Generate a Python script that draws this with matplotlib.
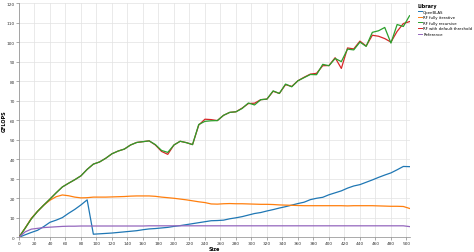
import matplotlib
matplotlib.use("Agg")
import matplotlib.pyplot as plt

# matrix size (x) and GFLOPS per library
sizes = [0, 8, 16, 24, 32, 40, 48, 56, 64, 72, 80, 88, 96, 104, 112, 120,
         128, 136, 144, 152, 160, 168, 176, 184, 192, 200, 208, 216, 224, 232, 240, 248,
         256, 264, 272, 280, 288, 296, 304, 312, 320, 328, 336, 344, 352, 360, 368, 376,
         384, 392, 400, 408, 416, 424, 432, 440, 448, 456, 464, 472, 480, 488, 496, 504]

openblas = [0, 1.3, 2.5, 3.6, 5.5, 7.7, 8.8, 10.1, 12.3, 14.3, 16.6, 19.2, 1.6, 1.8, 2.0, 2.2,
            2.5, 2.8, 3.1, 3.4, 3.9, 4.3, 4.5, 4.8, 5.1, 5.6, 6.0, 6.5, 7.0, 7.5, 8.0, 8.5,
            8.6, 8.8, 9.5, 10.0, 10.6, 11.4, 12.2, 12.7, 13.5, 14.2, 15.0, 15.7, 16.5, 17.3, 18.0, 19.3,
            20.0, 20.5, 21.8, 22.8, 23.8, 25.2, 26.3, 27.0, 28.2, 29.4, 30.7, 31.9, 33.0, 34.6, 36.3, 36.2]

rf_iterative = [0, 4.7, 9.8, 13.3, 16.5, 19.0, 20.8, 21.7, 21.3, 20.6, 20.2, 20.3, 20.6, 20.6, 20.6, 20.7,
                20.8, 20.9, 21.1, 21.2, 21.2, 21.2, 21.0, 20.6, 20.3, 20.0, 19.6, 19.2, 18.7, 18.2, 17.8, 17.1,
                17.0, 17.2, 17.3, 17.2, 17.2, 17.1, 17.0, 16.9, 16.9, 16.8, 16.6, 16.5, 16.4, 16.3, 16.2, 16.2,
                16.2, 16.2, 16.2, 16.2, 16.2, 16.1, 16.2, 16.2, 16.2, 16.2, 16.1, 16.0, 15.9, 15.9, 15.8, 14.8]

rf_recursive = [0, 4.7, 9.5, 13.3, 16.5, 19.6, 22.8, 25.8, 27.7, 29.5, 31.5, 34.8, 37.5, 38.6, 40.5, 42.8,
                44.2, 45.2, 47.3, 48.6, 49.0, 49.4, 47.5, 44.5, 43.5, 47.3, 49.2, 48.5, 47.5, 57.8, 59.4, 59.7,
                59.8, 62.5, 64.0, 64.3, 66.0, 68.8, 67.8, 70.5, 70.8, 75.0, 73.7, 78.5, 77.1, 80.2, 81.8, 83.4,
                83.3, 88.6, 87.9, 91.6, 90.0, 96.4, 96.0, 100.0, 97.8, 105.0, 105.8, 107.5, 99.5, 109.0, 108.0, 113.5]

rf_default = [0, 4.7, 9.5, 13.3, 16.5, 19.6, 22.8, 25.8, 27.7, 29.5, 31.5, 34.8, 37.5, 38.6, 40.5, 42.8,
              44.2, 45.2, 47.3, 48.6, 49.0, 49.4, 47.3, 44.0, 42.5, 47.3, 49.2, 48.5, 47.5, 57.5, 60.5, 60.3,
              59.8, 62.5, 64.0, 64.3, 66.2, 68.5, 68.7, 70.5, 70.8, 74.8, 73.7, 78.2, 77.3, 80.2, 82.0, 83.6,
              84.0, 87.9, 88.0, 92.0, 86.5, 97.0, 96.5, 100.5, 98.0, 103.5, 103.0, 101.8, 100.0, 105.5, 109.5, 110.5]

reference = [0, 2.8, 4.2, 4.6, 5.0, 5.2, 5.4, 5.6, 5.7, 5.7, 5.8, 5.8, 5.8, 5.8, 5.8, 5.8,
             5.8, 5.8, 5.8, 5.8, 5.8, 5.9, 5.9, 5.9, 5.9, 5.9, 5.9, 5.9, 5.9, 5.9, 5.9, 5.9,
             5.9, 5.9, 5.9, 5.9, 5.9, 5.9, 5.9, 5.9, 5.9, 5.9, 5.9, 5.9, 5.9, 5.9, 5.9, 5.9,
             5.9, 5.9, 5.9, 5.9, 5.9, 5.9, 5.9, 5.9, 5.9, 5.9, 5.9, 5.9, 5.9, 5.9, 5.9, 5.5]

series = [
    ("OpenBLAS", openblas, "#1f77b4"),
    ("RF fully iterative", rf_iterative, "#ff7f0e"),
    ("RF fully recursive", rf_recursive, "#2ca02c"),
    ("RF with default threshold", rf_default, "#d62728"),
    ("Reference", reference, "#9467bd"),
]
# red sits under green
zorders = [2, 3, 5, 4, 6]

fig = plt.figure(figsize=(4.74, 2.53), dpi=100)
ax = fig.add_axes([0.040, 0.058, 0.824, 0.926])

for (name, vals, col), z in zip(series, zorders):
    ax.plot(sizes, vals, color=col, lw=0.9, label=name, zorder=z)

ax.set_xlim(0, 504)
ax.set_ylim(0, 120)
ax.set_xticks(range(0, 501, 20))
ax.set_yticks(range(0, 121, 10))
ax.grid(True, color="#e2e2e2", lw=0.5)
ax.set_axisbelow(True)
for s in ["top", "right"]:
    ax.spines[s].set_visible(False)
for s in ["left", "bottom"]:
    ax.spines[s].set_color("#888888")
    ax.spines[s].set_linewidth(0.5)
ax.tick_params(labelsize=3.1, length=2, width=0.5, color="#888888",
               labelcolor="#333333", pad=1)
ax.set_xlabel("Size", fontsize=3.5, fontweight="bold")
ax.set_ylabel("GFLOPS", fontsize=3.5, fontweight="bold")
ax.xaxis.set_label_coords(0.5, -0.038)
ax.yaxis.set_label_coords(-0.032, 0.5)

leg = ax.legend(loc="upper left", bbox_to_anchor=(0.878, 0.99),
                bbox_transform=fig.transFigure, frameon=False,
                fontsize=2.8, title="Library", title_fontproperties={"size": 3.5, "weight": "bold"},
                handlelength=1.0, handletextpad=0.4, labelspacing=0.4,
                borderaxespad=0, alignment="left")
for line in leg.get_lines():
    line.set_linewidth(0.7)

fig.savefig("out.png", dpi=100)
